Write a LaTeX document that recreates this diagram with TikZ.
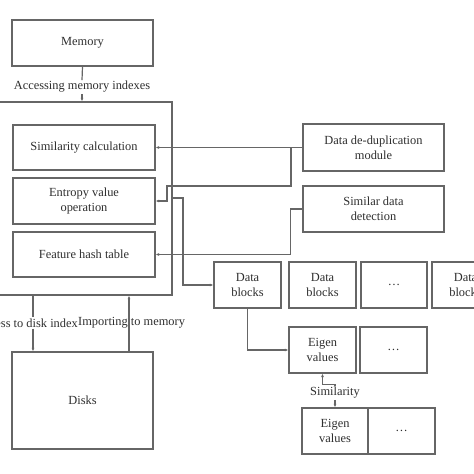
\documentclass[tikz,border=0pt]{standalone}
\usepackage{fontspec}
\setmainfont{Liberation Serif}
\usetikzlibrary{arrows.meta}
\definecolor{lg}{HTML}{666666}
\definecolor{tx}{HTML}{2E2E2E}
\begin{document}
\begin{tikzpicture}[x=1pt,y=-1pt,
  every node/.style={font=\fontsize{12.4}{15}\selectfont, text=tx},
  bx/.style={draw=lg, line width=1.3pt, inner sep=0pt, align=center},
  lbl/.style={inner sep=1pt},
  ln/.style={draw=lg, line width=1.2pt},
  arr/.style={ln, -{Latex[length=3.5pt,width=3pt]}}]
\useasboundingbox (0,0) rectangle (474,474);
% boxes
\node[bx, minimum width=141, minimum height=46] (mem) at (82.5,43) {Memory};
\node[bx, minimum width=182, minimum height=193] (big) at (81,198.5) {};
\node[bx, minimum width=142, minimum height=45] (simc) at (84,147.5) {Similarity calculation};
\node[bx, minimum width=142, minimum height=46] (ent) at (84,201) {Entropy value\\operation};
\node[bx, minimum width=142, minimum height=45] (fh) at (84,254.5) {Feature hash table};
\node[bx, minimum width=141, minimum height=47] (dd) at (373.5,147.5) {Data de-duplication\\module};
\node[bx, minimum width=141, minimum height=46] (sd) at (373.5,209) {Similar data\\detection};
\node[bx, minimum width=67, minimum height=46] (db1) at (247.5,285) {Data\\blocks};
\node[bx, minimum width=67, minimum height=46] (db2) at (322.5,285) {Data\\blocks};
\node[bx, minimum width=66, minimum height=46] (db3) at (394,285) {\dots};
\node[bx, minimum width=67, minimum height=46] (db4) at (465.5,285) {Data\\blocks};
\node[bx, minimum width=67, minimum height=46] (eig1) at (322.5,350) {Eigen\\values};
\node[bx, minimum width=67, minimum height=46] (eigd) at (393.5,350) {\dots};
\node[bx, minimum width=66, minimum height=46] (eig2) at (335,431) {Eigen\\values};
\node[bx, minimum width=67, minimum height=46] (eig2d) at (401.5,431) {\dots};
\node[bx, minimum width=141, minimum height=97] (disks) at (82.5,400.5) {Disks};
% labels
\node[lbl] (acc) at (82,87) {Accessing memory indexes};
\node[lbl] (sim) at (335,393) {Similarity};
\node[lbl, anchor=east, inner xsep=0pt] (acc2) at (78,323) {Access to disk index};
\node[lbl, anchor=west, inner xsep=0pt] (imp) at (78,323) {Importing to memory};
% memory connector
\draw[ln] (mem.south) -- (acc.north);
\draw[arr] (acc.south) -- (acc.south |- big.north);
% dedup connectors
\draw[arr] (dd.west) -- (simc.east);
\coordinate (j1) at (291,147.5);
\coordinate (j2) at (167,186);
\draw[arr] (j1) |- (j2) |- (ent.east);
% similar data detection -> feature hash
\draw[arr] (sd.west) -- ++(-12,0) |- (fh.east);
% big box -> data blocks
\coordinate (ds) at (172,198);
\draw[arr] (ds) -- ++(11,0) |- (db1.west);
% data blocks -> eigen
\draw[arr] (db1.south) |- (eig1.west);
% similarity
\draw[arr] (sim.north) -- ++(0,-2) -| (eig1.south);
\draw[arr] (sim.south) -- (eig2.north);
% disks
\coordinate (dx) at (33,0);
\coordinate (ux) at (129,0);
\draw[ln] (dx |- big.south) -- (dx |- acc2.north);
\draw[arr] (dx |- acc2.south) -- (dx |- disks.north);
\draw[arr] (ux |- disks.north) -- (ux |- big.south);
\end{tikzpicture}
\end{document}
